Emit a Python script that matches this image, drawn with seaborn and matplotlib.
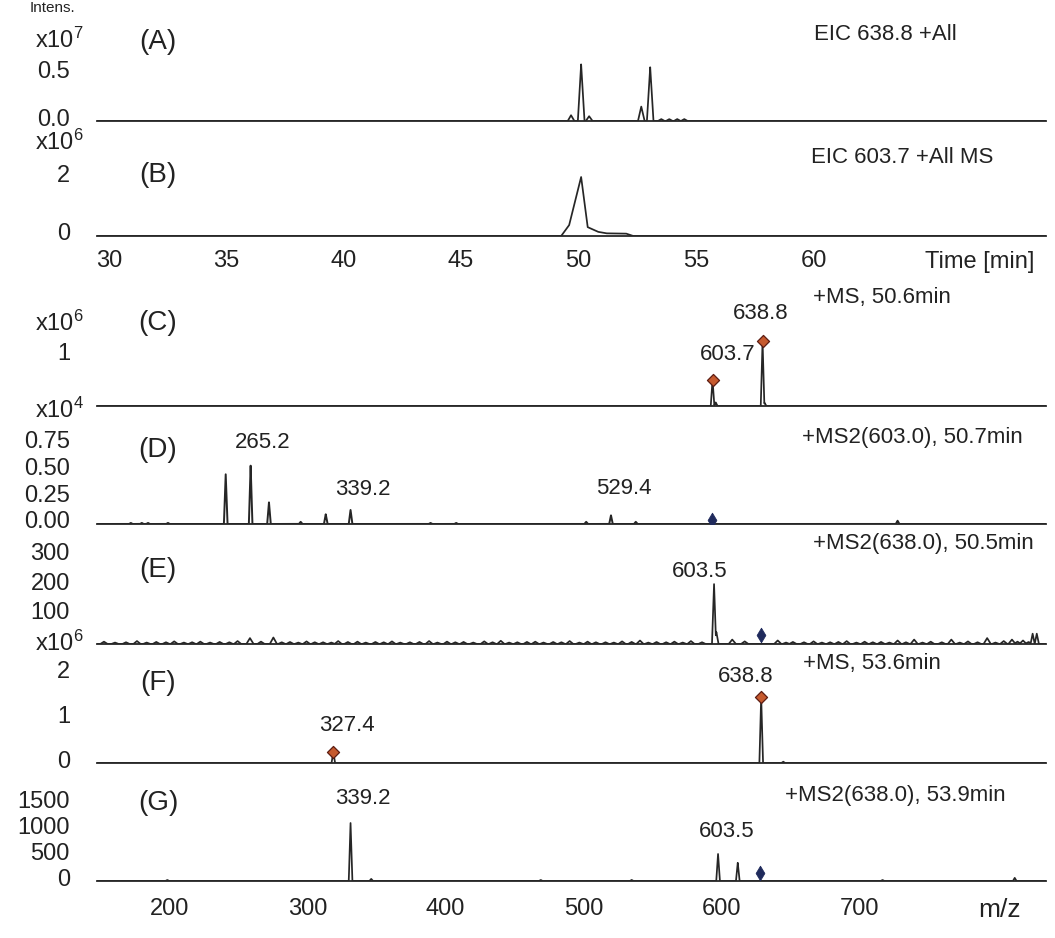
import numpy as np
import matplotlib
matplotlib.use("Agg")
import matplotlib.pyplot as plt
import matplotlib.transforms as mtransforms
import seaborn as sns

sns.set_theme(style="white")
plt.rcParams["font.family"] = ["Liberation Sans", "DejaVu Sans"]
plt.rcParams["mathtext.default"] = "regular"

# ------------------------------------------------------------------ data
# (A) EIC 638.8 : peak list (time min, intensity x1e7)
a_time = [49.68, 50.11, 50.45, 52.67, 53.05, 53.52, 53.86, 54.20, 54.50]
a_int = [0.06, 0.59, 0.05, 0.15, 0.56, 0.02, 0.02, 0.02, 0.02]
# (B) EIC 603.7 : trace (time min, intensity x1e6)
b_time = [29.5, 49.26, 49.60, 50.11, 50.39, 50.84, 51.20, 52.03, 52.33, 69.9]
b_int = [0.0, 0.0, 0.37, 2.00, 0.30, 0.14, 0.09, 0.08, 0.0, 0.0]
time_ticks = [30, 35, 40, 45, 50, 55, 60]

# (C) +MS, 50.6 min (x1e6)
c_mz = [593.7, 596.0, 630.0, 631.5]
c_int = [0.51, 0.07, 1.27, 0.06]
c_mark_mz = [593.7, 630.0]
c_mark_int = [0.51, 1.27]
c_labels = ["603.7", "638.8"]

# (D) +MS2(603.0), 50.7 min (x1e4)
d_mz = [171.5, 179.5, 184.0, 198.5, 240.4, 258.5, 271.8, 294.8, 313.0, 331.0,
        389.0, 407.6, 502.0, 520.0, 538.0, 728.0]
d_int = [0.01, 0.01, 0.01, 0.01, 0.46, 0.54, 0.20, 0.02, 0.09, 0.13,
         0.01, 0.01, 0.02, 0.08, 0.02, 0.03]
d_mark_mz = [593.0]
d_mark_int = [0.04]
d_lab_mz = [258.5, 331.0, 520.0]
d_lab_int = [0.54, 0.13, 0.08]
d_labels = ["265.2", "339.2", "529.4"]

# (E) +MS2(638.0), 50.5 min (counts)
e_noise_mz = [152, 160, 168, 176, 183, 190, 197, 203, 210, 216, 222, 229, 236,
              243, 249, 258, 266, 275, 281, 287, 293, 299, 305, 311, 317, 322,
              329, 336, 342, 349, 355, 361, 367, 374, 381, 388, 394, 401, 407,
              413, 420, 428, 434, 440, 446, 452, 459, 465, 471, 478, 484, 490,
              497, 503, 509, 516, 522, 528, 535, 541, 547, 553, 560, 566, 572,
              578, 586, 608, 617, 641, 647, 652, 660, 667, 673, 679, 685, 691,
              698, 704, 710, 716, 722, 728, 734, 740, 746, 752, 760, 767, 773,
              779, 786, 793, 799, 805, 811, 815, 819, 823]
e_noise_int = [8, 5, 6, 10, 5, 7, 6, 9, 5, 6, 8, 5, 7,
               6, 10, 20, 8, 22, 6, 7, 5, 9, 6, 6, 5, 10,
               7, 8, 5, 7, 6, 9, 5, 6, 7, 10, 5, 8, 6,
               7, 5, 9, 6, 11, 5, 6, 7, 8, 5, 7, 6, 10,
               5, 8, 6, 6, 5, 9, 7, 12, 5, 7, 6, 8, 5,
               10, 6, 15, 9, 12, 5, 7, 6, 9, 5, 6, 7, 10,
               5, 8, 6, 7, 5, 12, 6, 15, 5, 8, 6, 15, 5,
               9, 6, 20, 5, 10, 15, 8, 12, 7]
e_mz = [594.8, 596.5, 826.0, 829.0]
e_int = [203, 40, 35, 35]
e_mark_mz = [629.0]
e_mark_int = [30]
e_lab_mz = [594.8]
e_lab_int = [203]
e_labels = ["603.5"]

# (F) +MS, 53.6 min (x1e6)
f_mz = [318.5, 629.0, 645.0]
f_int = [0.24, 1.47, 0.03]
f_mark_mz = [318.5, 629.0]
f_mark_int = [0.24, 1.47]
f_labels = ["327.4", "638.8"]

# (G) +MS2(638.0), 53.9 min (counts)
g_mz = [198.0, 331.0, 346.0, 469.0, 535.0, 597.7, 612.0, 717.0, 813.0]
g_int = [20, 1115, 40, 20, 20, 520, 350, 20, 60]
g_mark_mz = [628.0]
g_mark_int = [150]
g_lab_mz = [331.0, 597.7]
g_lab_int = [1115, 520]
g_labels = ["339.2", "603.5"]

mz_ticks = [200, 300, 400, 500, 600, 700]

# ------------------------------------------------------------------ layout
W, H, DPI = 1055, 938, 100
L_PX, R_PX = 97, 1046
TIME_LIM = (29.5, 69.9)
MZ_LIM = (147.0, 835.7)
INK = "#262626"
RED_FACE, RED_EDGE = "#c65a2e", "#5c1c12"
NAVY = "#1f2a5c"
TICK_FS = 17
TXT_FS = 16
PANEL_FS = 20

fig = plt.figure(figsize=(W / DPI, H / DPI), dpi=DPI)
fig.patch.set_facecolor("white")


def fx(px):
    return px / W


def fy(py):
    return 1 - py / H


def make_ax(base, top, ppu, xlim):
    ax = fig.add_axes([fx(L_PX), fy(base), (R_PX - L_PX) / W, (base - top) / H])
    ax.set_facecolor("none")
    ax.set_xlim(*xlim)
    ax.set_ylim(0, (base - top) / ppu)
    for s in ["left", "top", "right"]:
        ax.spines[s].set_visible(False)
    ax.spines["bottom"].set_color(INK)
    ax.spines["bottom"].set_linewidth(1.3)
    ax.tick_params(length=0, labelsize=TICK_FS, colors="#222222")
    ax.tick_params(axis="y", pad=19.5)
    ax.grid(False)
    return ax


def set_yticks(ax, vals, labels):
    ax.set_yticks(vals)
    ax.set_yticklabels(labels)
    off = mtransforms.ScaledTranslation(0, 4 / DPI, fig.dpi_scale_trans)
    for t in ax.yaxis.get_major_ticks():
        t.label1.set_transform(t.label1.get_transform() + off)


def profile(ax, groups, xlim, lw=1.25):
    centers = np.concatenate([np.asarray(c, float) for c, _, _ in groups])
    grid = np.union1d(np.linspace(xlim[0], xlim[1], 9000), centers)
    y = np.zeros_like(grid)
    for cs, hs, hw in groups:
        for c, h in zip(cs, hs):
            y = np.maximum(y, h * np.clip(1 - np.abs(grid - c) / hw, 0, None))
    sns.lineplot(x=grid, y=y, ax=ax, color=INK, lw=lw, estimator=None,
                 sort=False, legend=False)


def red_marks(ax, xs, ys):
    sns.scatterplot(x=xs, y=ys, ax=ax, marker="D", s=38, color=RED_FACE,
                    edgecolor=RED_EDGE, linewidth=0.9, zorder=5, legend=False)


def navy_marks(ax, xs, ys):
    sns.scatterplot(x=xs, y=ys, ax=ax, marker="d", s=55, color=NAVY,
                    edgecolor=NAVY, linewidth=0.6, zorder=5, legend=False)


def peak_labels(ax, xs, ys, labels, offsets):
    for x, y, lab, (dx, dy) in zip(xs, ys, labels, offsets):
        ax.annotate(lab, xy=(x, y), xytext=(dx, dy), textcoords="offset pixels",
                    ha="center", va="center", fontsize=TXT_FS, color="#222222")


def ftext(px, py, s, size=TXT_FS, ha="center"):
    fig.text(fx(px), fy(py), s, fontsize=size, ha=ha, va="center", color="#222222")


# ---- (A)
axA = make_ax(121, 30, 96, TIME_LIM)
profile(axA, [(a_time, a_int, 0.14)], TIME_LIM)
axA.set_xticks([])
set_yticks(axA, [0, 0.5], ["0.0", "0.5"])

# ---- (B)
axB = make_ax(236, 128, 29.5, TIME_LIM)
sns.lineplot(x=b_time, y=b_int, ax=axB, color=INK, lw=1.25, estimator=None,
             sort=False, legend=False)
axB.set_xticks(time_ticks)
axB.set_xticklabels([str(t) for t in time_ticks])
axB.tick_params(axis="x", pad=10)
set_yticks(axB, [0, 2], ["0", "2"])

# ---- (C)
axC = make_ax(406, 290, 51, MZ_LIM)
profile(axC, [(c_mz, c_int, 1.3)], MZ_LIM)
red_marks(axC, c_mark_mz, c_mark_int)
peak_labels(axC, c_mark_mz, c_mark_int, c_labels, [(15, 25), (-2, 28)])
axC.set_xticks([])
set_yticks(axC, [1], ["1"])

# ---- (D)
axD = make_ax(524, 430, 108, MZ_LIM)
profile(axD, [(d_mz, d_int, 1.3)], MZ_LIM, lw=1.4)
navy_marks(axD, d_mark_mz, d_mark_int)
peak_labels(axD, d_lab_mz, d_lab_int, d_labels, [(12, 23), (12, 20), (13, 27)])
axD.set_xticks([])
set_yticks(axD, [0, 0.25, 0.5, 0.75], ["0.00", "0.25", "0.50", "0.75"])

# ---- (E)
axE = make_ax(644, 540, 0.295, MZ_LIM)
profile(axE, [(e_noise_mz, e_noise_int, 2.6), (e_mz, e_int, 1.5)], MZ_LIM)
navy_marks(axE, e_mark_mz, e_mark_int)
peak_labels(axE, e_lab_mz, e_lab_int, e_labels, [(-14, 13)])
axE.set_xticks([])
set_yticks(axE, [100, 200, 300], ["100", "200", "300"])

# ---- (F)
axF = make_ax(763, 650, 45, MZ_LIM)
profile(axF, [(f_mz, f_int, 1.3)], MZ_LIM)
red_marks(axF, f_mark_mz, f_mark_int)
peak_labels(axF, f_mark_mz, f_mark_int, f_labels, [(14, 27), (-15, 20)])
axF.set_xticks([])
set_yticks(axF, [0, 1, 2], ["0", "1", "2"])

# ---- (G)
axG = make_ax(881, 785, 0.052, MZ_LIM)
profile(axG, [(g_mz, g_int, 1.3)], MZ_LIM)
navy_marks(axG, g_mark_mz, g_mark_int)
peak_labels(axG, g_lab_mz, g_lab_int, g_labels, [(12, 25), (9, 22)])
axG.set_xticks(mz_ticks)
axG.set_xticklabels([str(t) for t in mz_ticks])
axG.tick_params(axis="x", pad=12)
set_yticks(axG, [0, 500, 1000, 1500], ["0", "500", "1000", "1500"])

# ---- panel letters
for lab, py in zip(["(A)", "(B)", "(C)", "(D)", "(E)", "(F)", "(G)"],
                   [42, 175, 323, 450, 570, 683, 803]):
    ftext(158, py, lab, size=PANEL_FS)

# ---- scan titles
ftext(885, 35, "EIC 638.8 +All")
ftext(902, 157, "EIC 603.7 +All MS")
ftext(882, 298, "+MS, 50.6min")
ftext(912, 437, "+MS2(603.0), 50.7min")
ftext(923, 543, "+MS2(638.0), 50.5min")
ftext(872, 663, "+MS, 53.6min")
ftext(895, 795, "+MS2(638.0), 53.9min")

# ---- axis captions and multipliers
ftext(980, 262, "Time [min]", size=TICK_FS)
ftext(1000, 910, "m/z", size=TICK_FS + 2)
ftext(52, 8, "Intens.", size=11)
for s, py in [("x10$^{7}$", 40), ("x10$^{6}$", 142), ("x10$^{6}$", 323),
              ("x10$^{4}$", 410), ("x10$^{6}$", 643)]:
    ftext(84, py, s, size=TICK_FS, ha="right")

fig.savefig("out.png", dpi=DPI)
